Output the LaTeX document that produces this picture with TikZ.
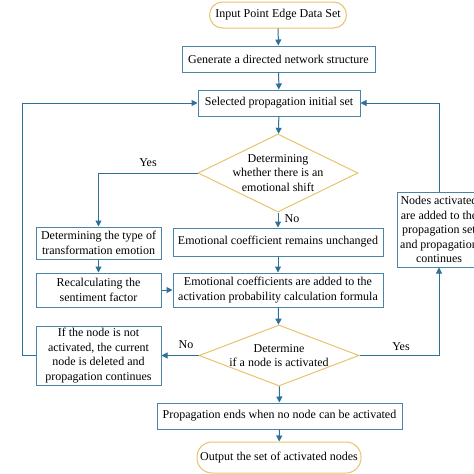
\documentclass[tikz,border=0pt]{standalone}
\usepackage{fontspec}
\setmainfont{Liberation Serif}
\usetikzlibrary{shapes.geometric,arrows.meta}
\definecolor{boxc}{RGB}{74,132,166}
\definecolor{arrc}{RGB}{46,112,152}
\definecolor{goldc}{RGB}{232,196,110}
\tikzset{
  txt/.style={font=\fontsize{12}{14.5}\selectfont, align=center, inner sep=0pt},
  box/.style={txt, draw=boxc, line width=1pt, fill=white},
  term/.style={txt, draw=goldc, line width=1pt, fill=white, rounded corners=13pt},
  dia/.style={shape=diamond, draw=goldc, line width=1pt, fill=white, inner sep=0pt},
  conn/.style={draw=arrc, line width=1pt, -{Triangle[length=6pt,width=6pt]}},
  lbl/.style={font=\fontsize{12}{14.5}\selectfont, inner sep=0pt}
}
\begin{document}
\begin{tikzpicture}[x=1pt,y=-1pt]
\useasboundingbox (0,0) rectangle (474,474);
\clip (0,0) rectangle (474,474);
\fill[white] (0,0) rectangle (474,474);

\node[term, minimum width=137pt, minimum height=26pt] (input) at (278,15) {Input Point Edge Data Set};
\node[box, minimum width=193pt, minimum height=26pt] (gen) at (278.5,59) {Generate a directed network structure};
\node[box, minimum width=162pt, minimum height=26pt] (sel) at (279,103) {Selected propagation initial set};
\node[dia, minimum width=160pt, minimum height=78pt] (d1) at (278,173) {};
\node[txt] (d1t) at (278,173) {Determining\\whether there is an\\emotional shift};
\node[box, minimum width=210pt, minimum height=28pt] (emo) at (278,242) {Emotional coefficient remains unchanged};
\node[box, minimum width=210pt, minimum height=34pt] (add) at (278,290) {Emotional coefficients are added to the\\activation probability calculation formula};
\node[box, minimum width=125pt, minimum height=32pt] (det) at (98.5,243) {Determining the type of\\transformation emotion};
\node[box, minimum width=125pt, minimum height=34pt] (rec) at (98.5,290) {Recalculating the\\sentiment factor};
\node[dia, minimum width=160pt, minimum height=61pt] (d2) at (279,355.5) {};
\node[txt] (d2t) at (279,355.5) {Determine\\if a node is activated};
\node[box, minimum width=125pt, minimum height=59pt] (ifn) at (98.5,355.5) {If the node is not\\activated, the current\\node is deleted and\\propagation continues};
\node[box, minimum width=84pt, minimum height=75pt] (nodes) at (439,229.5) {Nodes activated\\are added to the\\propagation set\\and propagation\\continues};
\node[box, minimum width=245pt, minimum height=26pt] (prop) at (279.5,416) {Propagation ends when no node can be activated};
\node[term, minimum width=164pt, minimum height=31pt, rounded corners=15pt] (out) at (279,457.5) {Output the set of activated nodes};

\coordinate (cyes) at (98.5,173);
\coordinate (cl1) at (22,355.5);
\coordinate (cl2) at (22,103);
\coordinate (cr1) at (439,355.5);
\coordinate (cr2) at (439,103);

\draw[conn] (input) -- (gen);
\draw[conn] (gen) -- (sel);
\draw[conn] (sel) -- (d1);
\draw[conn] (d1) -- (emo);
\draw[conn] (emo) -- (add);
\draw[conn] (add) -- (d2);
\draw[conn] (d2) -- (prop);
\draw[conn] (prop) -- (out);
\draw[conn] (d1.west) -- (cyes) -- (det.north);
\draw[conn] (det) -- (rec);
\draw[conn] (rec) -- (add);
\draw[conn] (d2.west) -- (ifn.east);
\draw[conn] (ifn.west) -- (cl1) -- (cl2) -- (sel.west);
\draw[conn] (d2.east) -- (cr1) -- (nodes.south);
\draw[conn] (nodes.north) -- (cr2) -- (sel.east);

\node[lbl] (yes1) at (148,163) {Yes};
\node[lbl] (no1) at (292,219) {No};
\node[lbl] (no2) at (186,345) {No};
\node[lbl] (yes2) at (401,347) {Yes};
\end{tikzpicture}
\end{document}
